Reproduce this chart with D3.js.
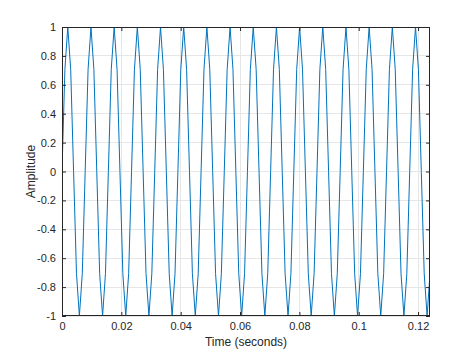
<!DOCTYPE html>
<html>
<head>
<meta charset="utf-8">
<script src="https://d3js.org/d3.v7.min.js"></script>
<style>
  html, body { margin: 0; padding: 0; background: #ffffff; }
  svg { display: block; }
  text { font-family: "Liberation Sans", Arial, Helvetica, sans-serif; fill: #262626; }
</style>
</head>
<body>
<svg id="chart" width="474" height="355"></svg>
<script>
// Samples taken every 1/1024 s, 128 samples
const sampleStep = 1 / 1024;
const amplitude = [
  0, 0.707, 1, 0.707, 0, -0.707, -1, -0.707,
  0, 0.707, 1, 0.707, 0, -0.707, -1, -0.707,
  0, 0.707, 1, 0.707, 0, -0.707, -1, -0.707,
  0, 0.707, 1, 0.707, 0, -0.707, -1, -0.707,
  0, 0.707, 1, 0.707, 0, -0.707, -1, -0.707,
  0, 0.707, 1, 0.707, 0, -0.707, -1, -0.707,
  0, 0.707, 1, 0.707, 0, -0.707, -1, -0.707,
  0, 0.707, 1, 0.707, 0, -0.707, -1, -0.707,
  0, 0.707, 1, 0.707, 0, -0.707, -1, -0.707,
  0, 0.707, 1, 0.707, 0, -0.707, -1, -0.707,
  0, 0.707, 1, 0.707, 0, -0.707, -1, -0.707,
  0, 0.707, 1, 0.707, 0, -0.707, -1, -0.707,
  0, 0.707, 1, 0.707, 0, -0.707, -1, -0.707,
  0, 0.707, 1, 0.707, 0, -0.707, -1, -0.707,
  0, 0.707, 1, 0.707, 0, -0.707, -1, -0.707,
  0, 0.707, 1, 0.707, 0, -0.707, -1, -0.707
];
const xTicks = [0, 0.02, 0.04, 0.06, 0.08, 0.1, 0.12];
const yTicks = [-1, -0.8, -0.6, -0.4, -0.2, 0, 0.2, 0.4, 0.6, 0.8, 1];
const xDomain = [0, 127 / 1024];
const yDomain = [-1, 1];
const xLabel = "Time (seconds)";
const yLabel = "Amplitude";

const data = amplitude.map((v, i) => ({ t: i * sampleStep, v: v }));

const svg = d3.select("#chart");
const pL = 62, pR = 430, pT = 27, pB = 316;
const axisColor = "#262626";

const x = d3.scaleLinear().domain(xDomain).range([pL, pR]);
const y = d3.scaleLinear().domain(yDomain).range([pB, pT]);

// grid
const grid = svg.append("g");
grid.selectAll("line.gx").data(xTicks).join("line")
  .attr("x1", d => x(d)).attr("x2", d => x(d))
  .attr("y1", pT).attr("y2", pB)
  .attr("stroke", "#e6e6e6").attr("stroke-width", 1).attr("shape-rendering", "crispEdges");
grid.selectAll("line.gy").data(yTicks).join("line")
  .attr("y1", d => y(d)).attr("y2", d => y(d))
  .attr("x1", pL).attr("x2", pR)
  .attr("stroke", "#e6e6e6").attr("stroke-width", 1).attr("shape-rendering", "crispEdges");

// line
const clipId = "plotclip";
svg.append("clipPath").attr("id", clipId).append("rect")
  .attr("x", pL).attr("y", pT - 1).attr("width", pR - pL).attr("height", pB - pT + 2);
svg.append("path")
  .datum(data)
  .attr("clip-path", `url(#${clipId})`)
  .attr("fill", "none")
  .attr("stroke", "#0072BD")
  .attr("stroke-width", 1)
  .attr("stroke-linejoin", "round")
  .attr("d", d3.line().x(d => x(d.t)).y(d => y(d.v)));

// axes
const fmt = d => String(d);
const tickLen = 4;
const xAxis = d3.axisBottom(x).tickValues(xTicks).tickFormat(fmt).tickSizeInner(-tickLen).tickSizeOuter(0).tickPadding(6);
const yAxis = d3.axisLeft(y).tickValues(yTicks).tickFormat(fmt).tickSizeInner(-tickLen).tickSizeOuter(0).tickPadding(6);
const xTopAxis = d3.axisTop(x).tickValues(xTicks).tickFormat("").tickSizeInner(-tickLen).tickSizeOuter(0);
const yRightAxis = d3.axisRight(y).tickValues(yTicks).tickFormat("").tickSizeInner(-tickLen).tickSizeOuter(0);

function style(g) {
  g.select(".domain").remove();
  g.selectAll(".tick line").attr("stroke", axisColor);
  g.selectAll(".tick text").attr("fill", axisColor).style("font-size", "11px")
    .style("font-family", "'Liberation Sans', Arial, sans-serif");
}
svg.append("g").attr("transform", `translate(0,${pB})`).call(xAxis).call(style);
svg.append("g").attr("transform", `translate(${pL},0)`).call(yAxis).call(style);
svg.append("g").attr("transform", `translate(0,${pT})`).call(xTopAxis).call(style);
svg.append("g").attr("transform", `translate(${pR},0)`).call(yRightAxis).call(style);

// box
svg.append("rect")
  .attr("x", pL + 0.5).attr("y", pT + 0.5)
  .attr("width", pR - pL - 1).attr("height", pB - pT - 1)
  .attr("fill", "none").attr("stroke", axisColor).attr("stroke-width", 1);

// labels
svg.append("text")
  .attr("x", (pL + pR) / 2).attr("y", 346)
  .attr("text-anchor", "middle").style("font-size", "12px")
  .text(xLabel);
svg.append("text")
  .attr("transform", `translate(35,${(pT + pB) / 2}) rotate(-90)`)
  .attr("text-anchor", "middle").style("font-size", "12px")
  .text(yLabel);
</script>
</body>
</html>
